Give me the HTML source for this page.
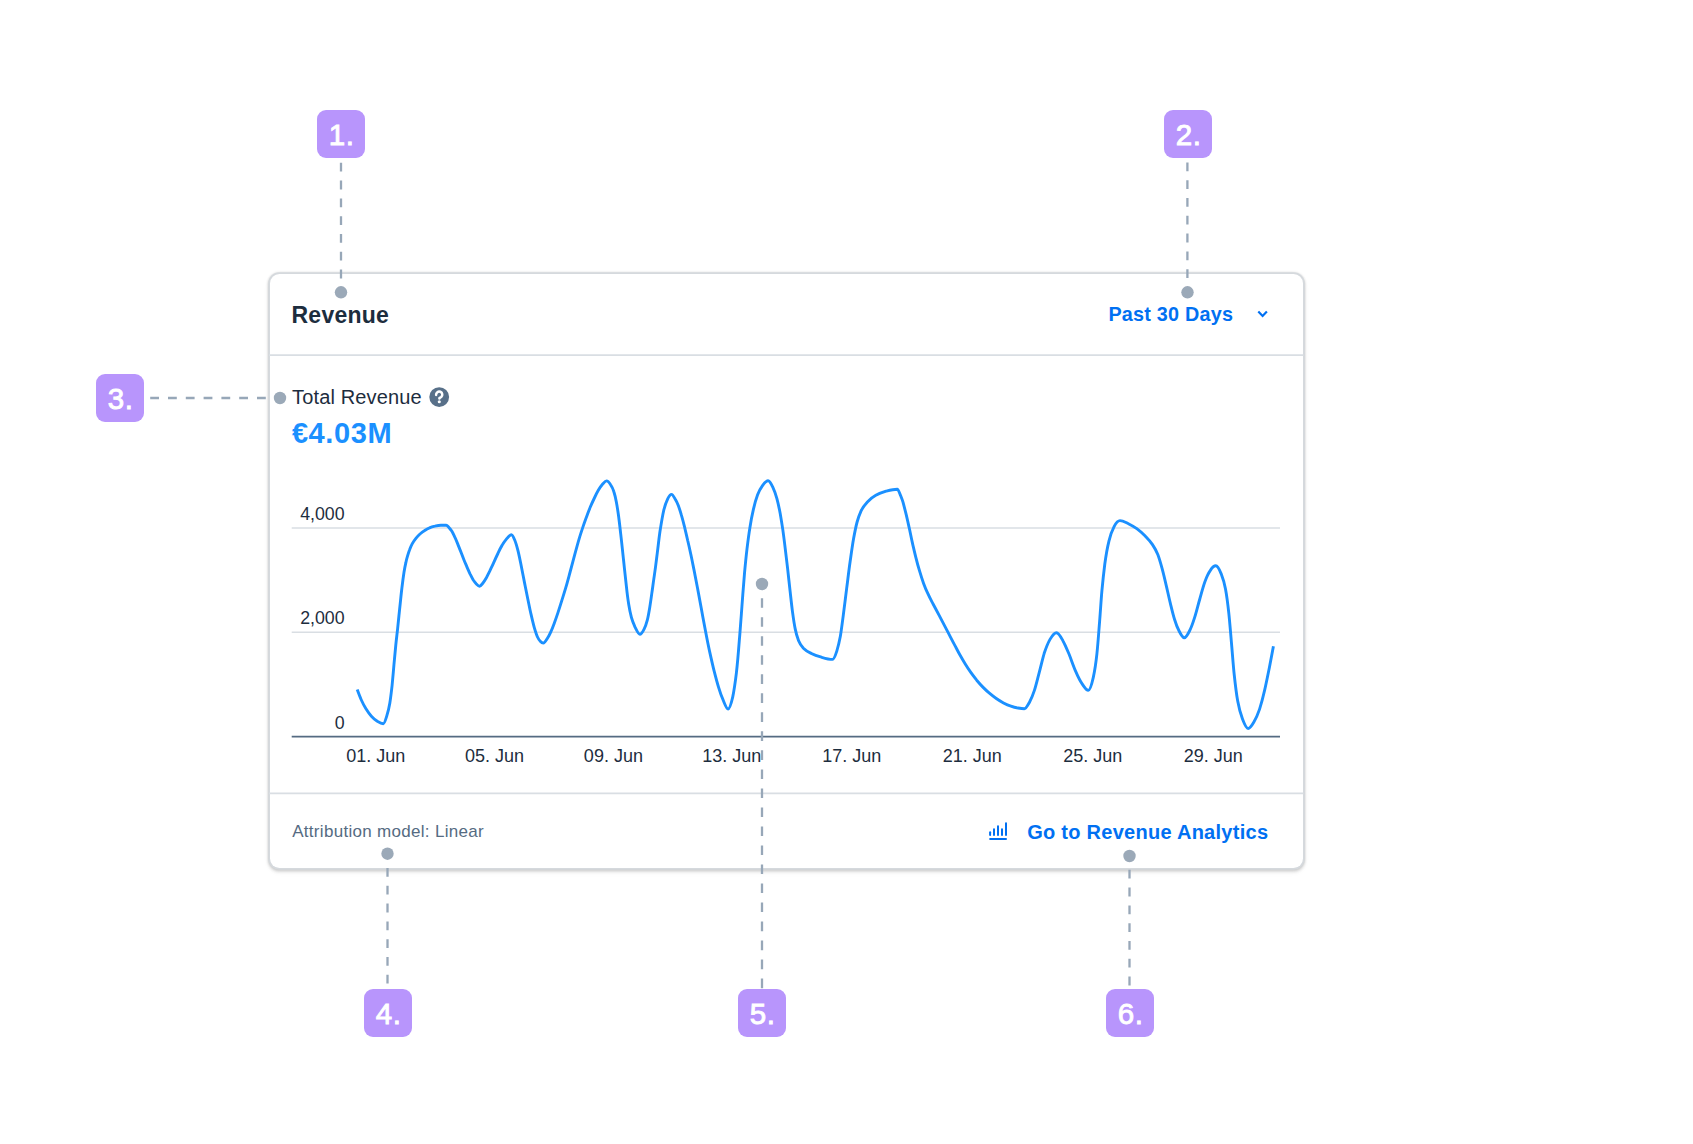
<!DOCTYPE html>
<html><head><meta charset="utf-8"><title>Revenue card</title>
<style>
html,body{margin:0;padding:0;background:#fff;}
body{width:1693px;height:1144px;position:relative;overflow:hidden;font-family:"Liberation Sans",Arial,sans-serif;}
.t{position:absolute;line-height:1;white-space:nowrap;}
.card{position:absolute;left:269.6px;top:274.4px;width:1033.4px;height:593.9px;border-radius:9.5px;background:#fff;
box-shadow:0 0 0 1.8px #d5d9dd, 0 0 2.5px 2px rgba(0,0,0,0.10), 0 2px 3px 1.8px rgba(0,0,0,0.11), 0 3px 6px 1px rgba(0,0,0,0.05);}
.badge{position:absolute;width:48px;height:48px;border-radius:9px;background:#b895fc;}
.badge span{position:absolute;left:0.6px;width:48px;text-align:center;color:#fff;font-weight:400;font-size:29.5px;line-height:1;top:9.5px;letter-spacing:0.6px;-webkit-text-stroke:0.9px #fff}
svg{position:absolute;left:0;top:0;}
</style></head><body>
<div class="card"></div>
<svg width="1693" height="1144" viewBox="0 0 1693 1144">
 <line x1="269" y1="355.1" x2="1303.4" y2="355.1" stroke="#d9dee3" stroke-width="1.7"/>
 <line x1="269" y1="793.3" x2="1303.4" y2="793.3" stroke="#d9dee3" stroke-width="1.7"/>
 <line x1="291.7" y1="528" x2="1280" y2="528" stroke="#d9dee3" stroke-width="1.6"/>
 <line x1="291.7" y1="632.3" x2="1280" y2="632.3" stroke="#d9dee3" stroke-width="1.6"/>
 <line x1="291.7" y1="736.6" x2="1280" y2="736.6" stroke="#556b82" stroke-width="1.6"/>
 <path d="M357.2,689.5C358.5,693.0 359.8,696.6 361.1,699.5C362.7,703.0 364.2,706.0 365.8,708.6C367.7,711.7 369.5,714.2 371.4,716.2C373.4,718.4 375.3,720.0 377.3,721.3C379.3,722.5 381.3,723.7 383.3,723.7C384.5,723.7 385.6,719.7 386.8,715.9C387.8,712.6 388.8,709.2 389.8,703.2C390.6,698.6 391.3,692.6 392.1,685.4C392.7,679.4 393.4,671.2 394.0,664.2C394.6,657.7 395.2,650.9 395.8,645.0C396.4,639.1 397.0,634.3 397.6,628.8C398.3,622.5 398.9,615.8 399.6,609.3C400.4,602.2 401.1,594.4 401.9,588.0C402.6,582.1 403.3,576.7 404.0,572.2C404.6,568.4 405.2,565.6 405.8,562.9C406.3,560.3 406.9,558.2 407.5,556.2C408.2,553.8 408.9,551.5 409.6,549.7C410.5,547.2 411.4,545.3 412.3,543.6C413.5,541.4 414.7,539.8 415.9,538.3C417.2,536.6 418.6,535.3 420.0,534.0C421.6,532.6 423.1,531.5 424.7,530.5C426.3,529.4 427.9,528.5 429.5,527.9C431.3,527.1 433.1,526.6 434.9,526.2C436.9,525.7 438.9,525.2 440.9,525.2C442.7,525.2 444.4,525.2 446.2,525.2C447.2,525.2 448.1,526.7 449.1,527.7C450.0,528.7 450.9,529.8 451.9,531.3C452.8,532.9 453.8,534.9 454.7,536.9C455.8,539.1 456.8,541.6 457.8,544.1C458.8,546.6 459.8,549.3 460.9,551.9C461.9,554.5 462.9,557.2 463.9,559.7C464.9,562.2 466.0,564.7 467.0,567.1C468.0,569.4 469.0,571.7 470.0,573.8C471.1,575.9 472.1,578.0 473.1,579.7C474.2,581.3 475.2,582.7 476.2,583.8C477.3,584.9 478.4,586.2 479.5,586.2C480.6,586.2 481.7,584.5 482.8,583.2C483.9,581.9 485.0,580.2 486.1,578.3C487.2,576.2 488.4,573.8 489.6,571.4C490.9,568.6 492.3,565.7 493.6,562.8C495.0,559.7 496.5,556.4 497.9,553.5C499.2,550.7 500.5,547.8 501.9,545.6C503.3,543.1 504.8,541.1 506.2,539.4C507.9,537.4 509.7,534.8 511.4,534.8C512.5,534.8 513.6,537.4 514.7,540.0C515.8,542.6 516.8,546.1 517.9,550.4C519.0,554.7 520.1,560.3 521.2,565.7C522.3,571.1 523.4,577.0 524.5,582.6C525.6,588.1 526.7,593.7 527.8,599.0C528.9,604.2 529.9,609.5 531.0,614.2C532.1,619.0 533.2,623.8 534.3,627.6C535.4,631.3 536.4,634.6 537.5,637.0C538.5,639.2 539.5,640.5 540.5,641.5C541.4,642.5 542.4,643.1 543.3,643.1C544.6,643.1 546.0,640.6 547.3,638.5C548.4,636.8 549.6,634.6 550.7,632.1C551.8,629.7 553.0,626.7 554.1,623.7C555.3,620.4 556.6,616.8 557.8,613.1C559.1,609.2 560.4,605.1 561.7,600.9C563.0,596.7 564.4,592.4 565.7,587.9C567.2,582.9 568.6,577.5 570.1,572.0C571.7,566.1 573.4,559.7 575.0,553.7C576.4,548.5 577.8,543.3 579.2,538.6C580.4,534.6 581.6,531.0 582.8,527.4C584.0,523.7 585.3,520.2 586.5,516.9C587.8,513.3 589.1,510.0 590.4,506.8C591.7,503.7 593.1,500.7 594.4,498.0C595.7,495.2 597.0,492.5 598.3,490.3C599.6,488.0 601.0,486.0 602.3,484.5C603.8,482.9 605.2,480.9 606.6,480.9C607.9,480.9 609.3,482.7 610.6,484.7C611.7,486.3 612.8,488.1 613.8,491.5C614.6,494.0 615.5,497.4 616.3,501.7C617.0,505.3 617.7,509.8 618.4,514.8C619.2,520.4 619.9,527.0 620.7,533.8C621.7,542.1 622.6,551.6 623.6,560.5C624.5,569.1 625.5,578.4 626.4,586.3C627.1,592.9 627.9,599.3 628.7,604.2C629.6,609.9 630.5,613.9 631.4,617.3C632.7,622.0 634.0,624.7 635.2,627.4C636.8,630.6 638.4,634.3 639.9,634.3C641.3,634.3 642.7,631.9 644.1,629.1C645.2,627.0 646.2,624.4 647.3,620.2C648.1,617.0 648.9,612.5 649.7,607.7C650.4,603.5 651.1,598.4 651.8,593.4C652.5,588.8 653.1,583.8 653.8,579.1C654.4,575.1 654.9,571.4 655.5,567.1C656.1,562.6 656.7,557.6 657.3,552.9C658.2,545.7 659.1,537.5 660.0,531.3C661.3,523.0 662.5,515.8 663.7,510.5C665.0,504.9 666.4,501.6 667.7,498.9C669.0,496.2 670.3,494.4 671.6,494.4C672.7,494.4 673.9,496.9 675.0,498.8C676.1,500.6 677.2,502.7 678.3,505.5C679.3,508.2 680.4,511.6 681.4,515.2C682.5,518.8 683.5,522.9 684.6,527.2C685.6,531.4 686.7,535.9 687.7,540.5C688.8,545.0 689.8,549.5 690.8,554.3C691.9,559.3 692.9,564.5 694.0,569.9C695.2,575.9 696.4,582.2 697.6,588.5C698.9,595.2 700.1,602.1 701.4,609.0C702.7,616.2 704.1,623.7 705.4,630.6C706.8,638.0 708.2,645.2 709.7,651.9C711.2,658.7 712.6,665.0 714.1,670.9C715.6,676.8 717.1,682.5 718.6,687.4C720.1,692.4 721.6,696.7 723.2,700.2C724.8,704.0 726.5,709.0 728.1,709.0C729.6,709.0 731.1,704.0 732.7,697.1C733.9,691.4 735.1,683.7 736.4,672.9C737.4,664.3 738.4,652.5 739.3,640.7C740.0,632.9 740.6,623.7 741.3,615.0C741.8,608.3 742.3,601.0 742.8,594.6C743.4,586.7 744.0,579.0 744.6,572.2C745.4,563.6 746.2,555.7 747.0,548.9C748.0,540.7 748.9,533.8 749.9,527.8C751.0,520.4 752.2,514.5 753.4,509.4C754.8,503.3 756.2,498.5 757.6,494.8C759.2,490.4 760.9,487.8 762.5,485.6C764.4,483.0 766.2,480.8 768.1,480.8C769.7,480.8 771.3,484.0 772.9,487.3C774.2,490.1 775.6,493.7 776.9,498.6C778.0,502.6 779.1,507.7 780.2,513.5C781.0,518.2 781.9,523.6 782.8,529.6C783.6,535.2 784.4,541.7 785.2,548.3C786.0,554.9 786.9,562.1 787.7,569.3C788.5,576.4 789.3,584.1 790.1,591.2C790.9,598.3 791.7,605.8 792.5,611.9C793.4,618.5 794.3,624.5 795.2,628.9C796.3,634.5 797.5,637.9 798.6,640.8C800.3,645.0 802.0,646.5 803.7,648.4C806.3,651.1 808.8,652.2 811.4,653.5C814.7,655.3 818.1,656.3 821.4,657.2C825.2,658.3 828.9,659.4 832.6,659.4C834.0,659.4 835.4,655.4 836.8,651.1C837.9,647.5 839.1,643.1 840.3,636.6C841.3,630.9 842.3,622.8 843.3,615.1C844.4,606.9 845.5,597.5 846.6,588.9C847.8,579.7 848.9,570.2 850.1,561.8C851.3,553.4 852.4,545.3 853.6,538.6C854.8,532.0 855.9,526.4 857.1,522.0C858.5,516.8 859.9,513.5 861.2,510.6C863.3,506.4 865.3,504.2 867.4,501.9C870.2,498.8 873.0,496.9 875.8,495.3C879.3,493.3 882.7,492.2 886.1,491.2C889.9,490.2 893.6,489.2 897.3,489.2C898.3,489.2 899.4,492.7 900.4,495.1C901.2,497.1 902.1,499.3 903.0,502.1C903.9,505.4 904.9,509.4 905.9,513.4C907.0,517.9 908.1,522.9 909.2,527.8C910.3,532.7 911.3,538.1 912.4,542.9C913.6,548.0 914.7,553.1 915.9,557.6C917.1,562.6 918.4,567.2 919.7,571.4C921.0,575.8 922.3,579.8 923.6,583.4C925.0,587.2 926.4,590.6 927.9,593.7C929.6,597.5 931.3,600.6 933.1,604.0C935.2,608.0 937.2,611.7 939.3,615.6C941.3,619.4 943.3,623.3 945.3,627.1C946.9,630.2 948.5,633.3 950.1,636.4C951.6,639.3 953.1,642.3 954.7,645.1C956.4,648.3 958.0,651.5 959.7,654.5C961.5,657.7 963.3,660.8 965.1,663.7C967.0,666.8 968.9,669.7 970.8,672.4C972.8,675.2 974.8,677.8 976.7,680.2C978.8,682.7 980.8,685.0 982.9,687.1C985.1,689.3 987.2,691.4 989.4,693.2C991.7,695.2 994.0,696.9 996.3,698.5C998.7,700.2 1001.1,701.6 1003.5,702.9C1006.0,704.2 1008.4,705.3 1010.9,706.1C1013.3,707.0 1015.6,707.6 1018.0,708.0C1020.1,708.4 1022.2,708.8 1024.3,708.8C1026.0,708.8 1027.8,705.3 1029.5,702.2C1031.1,699.2 1032.8,695.4 1034.4,690.4C1036.0,685.5 1037.6,678.6 1039.2,672.6C1040.9,666.3 1042.6,658.6 1044.2,653.3C1046.2,647.4 1048.1,642.7 1050.0,639.4C1052.2,635.7 1054.3,632.7 1056.5,632.7C1058.7,632.7 1060.9,637.1 1063.0,640.9C1065.1,644.5 1067.2,649.8 1069.3,654.8C1071.4,660.0 1073.6,666.7 1075.8,671.6C1077.9,676.5 1080.1,680.9 1082.3,684.1C1084.3,687.1 1086.3,690.4 1088.3,690.4C1090.0,690.4 1091.6,685.0 1093.3,677.4C1094.5,671.9 1095.7,665.1 1096.9,653.9C1097.8,645.6 1098.7,632.7 1099.6,621.6C1100.4,611.6 1101.1,599.7 1101.9,590.9C1102.9,580.2 1103.9,571.2 1104.8,564.0C1106.2,553.8 1107.6,546.6 1109.0,540.9C1110.7,533.5 1112.5,529.6 1114.2,526.3C1116.1,522.7 1118.1,520.6 1120.0,520.6C1122.8,520.6 1125.6,522.4 1128.4,523.7C1131.2,525.1 1134.0,526.6 1136.8,528.7C1139.6,530.8 1142.4,533.2 1145.2,536.0C1147.6,538.5 1150.1,540.9 1152.5,544.6C1154.3,547.3 1156.0,550.0 1157.8,554.5C1159.2,558.1 1160.6,563.0 1162.0,568.2C1163.4,573.3 1164.8,579.4 1166.2,585.3C1167.6,591.1 1168.9,597.5 1170.3,603.1C1171.7,608.8 1173.1,614.8 1174.5,619.2C1176.0,624.1 1177.5,628.0 1179.1,631.0C1180.8,634.4 1182.5,637.8 1184.3,637.8C1186.0,637.8 1187.8,634.4 1189.5,631.0C1191.2,627.7 1192.9,623.0 1194.5,617.9C1196.3,612.4 1198.0,605.1 1199.8,599.0C1201.5,593.0 1203.2,586.3 1205.0,581.5C1206.7,576.8 1208.4,573.1 1210.2,570.6C1212.0,567.8 1213.9,565.8 1215.8,565.8C1217.6,565.8 1219.4,569.4 1221.2,573.9C1222.6,577.5 1224.1,581.2 1225.5,589.0C1226.6,594.9 1227.7,602.9 1228.8,613.1C1229.7,621.4 1230.6,633.2 1231.5,643.4C1232.4,653.6 1233.3,666.0 1234.2,674.5C1235.4,685.7 1236.5,694.4 1237.7,701.1C1239.3,710.0 1240.9,714.8 1242.5,719.1C1244.4,724.2 1246.2,728.5 1248.1,728.5C1250.0,728.5 1252.0,725.3 1253.9,722.0C1255.8,718.9 1257.6,715.0 1259.5,709.4C1261.2,704.1 1263.0,697.3 1264.7,689.9C1266.3,683.2 1267.8,675.3 1269.4,667.5C1270.7,660.7 1272.1,653.5 1273.4,646.3" fill="none" stroke="#1b90ff" stroke-width="2.9" stroke-linejoin="round" stroke-linecap="butt"/>
 <path d="M1258.3,311.6 L1262.6,316 L1266.9,311.6" fill="none" stroke="#0070f2" stroke-width="2.2" stroke-linecap="butt" stroke-linejoin="miter"/>
 <circle cx="439.2" cy="397.1" r="9.9" fill="#587089"/>
 <path d="M436.1,394.9 A3.1,3.1 0 1 1 441.2,397.0 L439.4,398.1 L439.4,398.4" fill="none" stroke="#fff" stroke-width="2.5" stroke-linecap="round" stroke-linejoin="round"/>
 <circle cx="439.3" cy="401.7" r="1.55" fill="#fff"/>
 <g stroke="#0070f2" stroke-width="2" stroke-linecap="round" fill="none">
  <line x1="990.1" y1="832.2" x2="990.1" y2="835"/>
  <line x1="994" y1="829.2" x2="994" y2="835"/>
  <line x1="998" y1="826.2" x2="998" y2="835"/>
  <line x1="1002" y1="829.2" x2="1002" y2="835"/>
  <line x1="1006" y1="823.2" x2="1006" y2="835"/>
  <line x1="990.1" y1="839.1" x2="1006" y2="839.1"/>
 </g>

 <g stroke="#97a7b8" stroke-width="2.3" fill="none">
  <line x1="341" y1="162.8" x2="341" y2="292" stroke-dasharray="8.8 9"/>
  <line x1="1187.4" y1="162.4" x2="1187.4" y2="292" stroke-dasharray="8.8 9"/>
  <line x1="150.2" y1="398" x2="280" y2="398" stroke-dasharray="8.8 9"/>
  <line x1="387.5" y1="983.6" x2="387.5" y2="866.5" stroke-dasharray="8.8 9"/>
  <line x1="762" y1="598.2" x2="762" y2="988.3" stroke-dasharray="9.6 9.42"/>
  <line x1="1129.5" y1="985.4" x2="1129.5" y2="868.5" stroke-dasharray="8.8 9"/>
 </g>
 <circle cx="341" cy="292.3" r="6.2" fill="#9ba9b8"/>
 <circle cx="1187.5" cy="292.3" r="6.2" fill="#9ba9b8"/>
 <circle cx="280" cy="398" r="6.2" fill="#9ba9b8"/>
 <circle cx="387.5" cy="853.7" r="6.2" fill="#9ba9b8"/>
 <circle cx="762" cy="584" r="6.2" fill="#9ba9b8"/>
 <circle cx="1129.5" cy="856" r="6.2" fill="#9ba9b8"/>
</svg>
<div class="t" style="left:291.50px;top:303.63px;font-size:23px;font-weight:700;color:#1d2d3e;letter-spacing:0.25px;">Revenue</div>
<div class="t" style="left:1108.40px;top:304.84px;font-size:19.8px;font-weight:700;color:#0070f2;letter-spacing:0.24px;">Past 30 Days</div>
<div class="t" style="left:292.00px;top:387.27px;font-size:20px;font-weight:400;color:#1d2d3e;letter-spacing:0.15px;">Total Revenue</div>
<div class="t" style="left:291.90px;top:418.85px;font-size:29px;font-weight:700;color:#1b90ff;letter-spacing:0.6px;">€4.03M</div>
<div class="t" style="right:1348.40px;top:506.07px;font-size:17.75px;font-weight:400;color:#1d2d3e;letter-spacing:0px;">4,000</div>
<div class="t" style="right:1348.40px;top:610.37px;font-size:17.75px;font-weight:400;color:#1d2d3e;letter-spacing:0px;">2,000</div>
<div class="t" style="right:1348.40px;top:714.67px;font-size:17.75px;font-weight:400;color:#1d2d3e;letter-spacing:0px;">0</div>
<div class="t" style="left:375.70px;transform:translateX(-50%);top:746.66px;font-size:18px;font-weight:400;color:#1d2d3e;letter-spacing:0px;">01. Jun</div>
<div class="t" style="left:494.60px;transform:translateX(-50%);top:746.66px;font-size:18px;font-weight:400;color:#1d2d3e;letter-spacing:0px;">05. Jun</div>
<div class="t" style="left:613.40px;transform:translateX(-50%);top:746.66px;font-size:18px;font-weight:400;color:#1d2d3e;letter-spacing:0px;">09. Jun</div>
<div class="t" style="left:731.70px;transform:translateX(-50%);top:746.66px;font-size:18px;font-weight:400;color:#1d2d3e;letter-spacing:0px;">13. Jun</div>
<div class="t" style="left:851.80px;transform:translateX(-50%);top:746.66px;font-size:18px;font-weight:400;color:#1d2d3e;letter-spacing:0px;">17. Jun</div>
<div class="t" style="left:972.30px;transform:translateX(-50%);top:746.66px;font-size:18px;font-weight:400;color:#1d2d3e;letter-spacing:0px;">21. Jun</div>
<div class="t" style="left:1092.70px;transform:translateX(-50%);top:746.66px;font-size:18px;font-weight:400;color:#1d2d3e;letter-spacing:0px;">25. Jun</div>
<div class="t" style="left:1213.30px;transform:translateX(-50%);top:746.66px;font-size:18px;font-weight:400;color:#1d2d3e;letter-spacing:0px;">29. Jun</div>
<div class="t" style="left:292.20px;top:822.71px;font-size:17px;font-weight:400;color:#556b82;letter-spacing:0.3px;">Attribution model: Linear</div>
<div class="t" style="left:1027.20px;top:822.47px;font-size:20px;font-weight:700;color:#0070f2;letter-spacing:0.27px;">Go to Revenue Analytics</div>
<div class="badge" style="left:317px;top:110px"><span>1.</span></div>
<div class="badge" style="left:1164px;top:110px"><span>2.</span></div>
<div class="badge" style="left:96px;top:374px"><span>3.</span></div>
<div class="badge" style="left:364px;top:989px"><span>4.</span></div>
<div class="badge" style="left:738px;top:989px"><span>5.</span></div>
<div class="badge" style="left:1106px;top:989px"><span>6.</span></div>
</body></html>
